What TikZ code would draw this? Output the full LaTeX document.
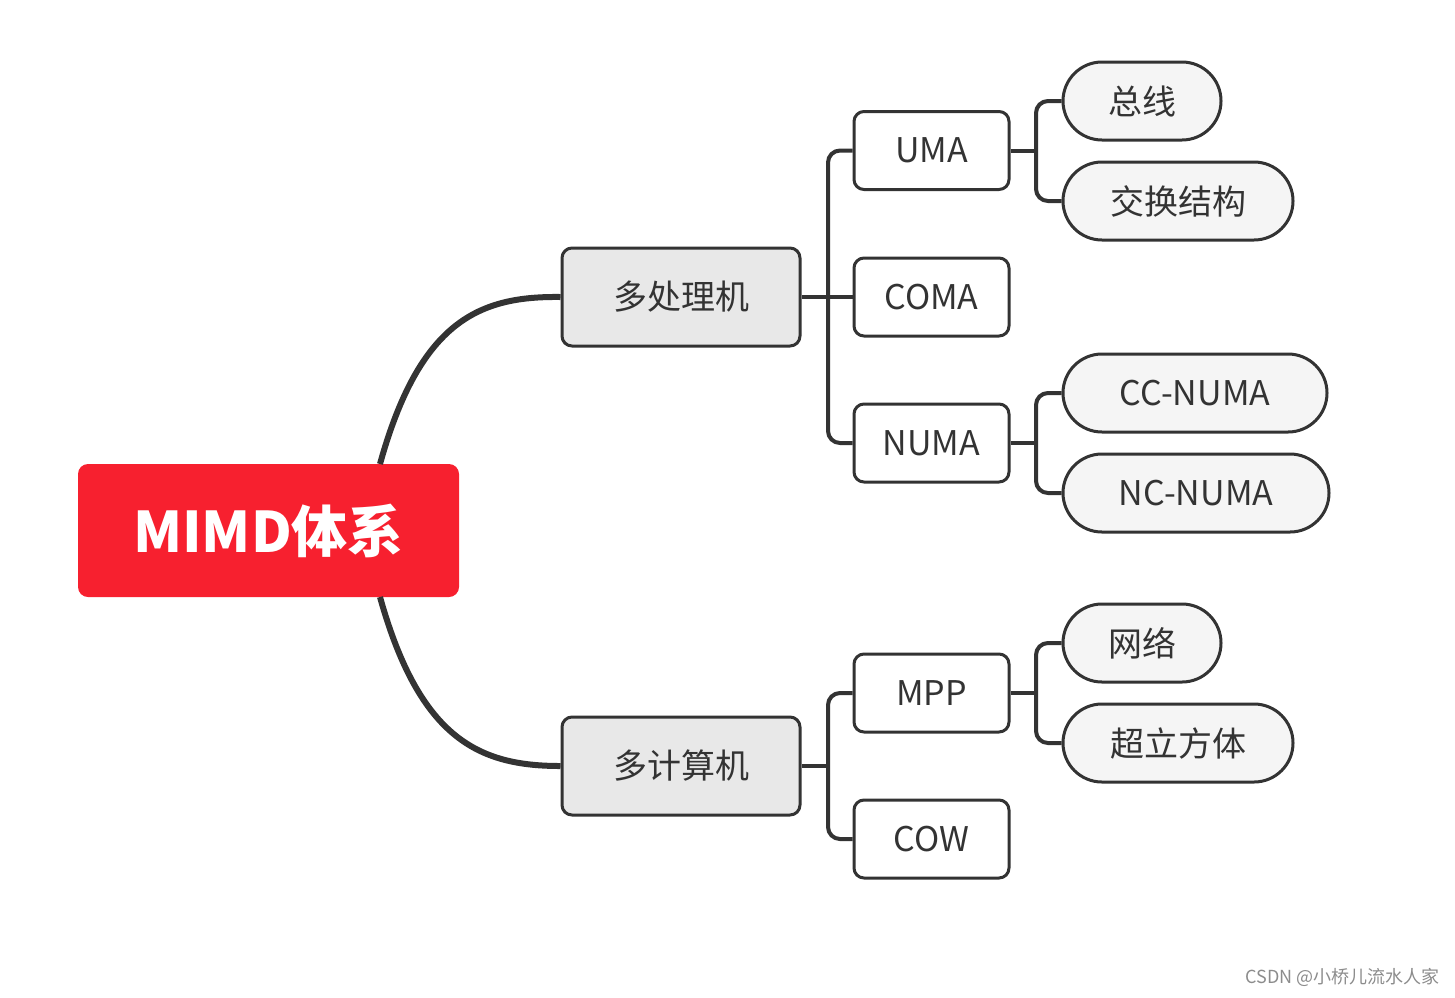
\documentclass[tikz,border=0pt]{standalone}
\usepackage{fontspec}
\setmainfont{Noto Sans CJK SC}
\definecolor{ln}{HTML}{333333}
\definecolor{rd}{HTML}{F7202F}
\begin{document}
\begin{tikzpicture}[x=0.5pt,y=-0.5pt,
 base/.style={draw=ln,line width=1.5pt,inner sep=0pt,text=ln,font=\fontsize{17}{20}\selectfont},
 l1/.style={base,fill=black!9,rounded corners=5pt,minimum width=119pt,minimum height=49pt},
 l2/.style={base,fill=white,rounded corners=5pt,minimum width=77.5pt,minimum height=39pt},
 l3/.style={base,fill=black!4,rounded corners=19.5pt,minimum height=39pt},
 con/.style={draw=ln,line width=2pt,rounded corners=6pt}]
\useasboundingbox (0,0) rectangle (1455,997);
\node[fill=rd,rounded corners=5pt,minimum width=190.5pt,minimum height=66.5pt,inner sep=0pt,text=white,font=\fontsize{28}{32}\selectfont\bfseries] (root) at (268.5,530.5) {MIMD体系};
\node[l1] (mp) at (681,297) {多处理机};
\node[l1] (mc) at (681,766) {多计算机};
\node[l2] (uma) at (931.5,150.5) {UMA};
\node[l2] (coma) at (931.5,297) {COMA};
\node[l2] (numa) at (931.5,443) {NUMA};
\node[l2] (mpp) at (931.5,693) {MPP};
\node[l2] (cow) at (931.5,839) {COW};
\node[l3,minimum width=79pt] (zx) at (1142,101) {总线};
\node[l3,minimum width=115pt] (jh) at (1178,201) {交换结构};
\node[l3,minimum width=132pt] (cc) at (1195,393) {CC-NUMA};
\node[l3,minimum width=133pt] (nc) at (1196,493) {NC-NUMA};
\node[l3,minimum width=79pt] (wl) at (1142,643) {网络};
\node[l3,minimum width=115pt] (cl) at (1178,743) {超立方体};
\draw[draw=ln,line width=3pt] (380,464) .. controls (420,320) and (480,296) .. (mp.west);
\draw[draw=ln,line width=3pt] (380,597) .. controls (420,740) and (480,766) .. (mc.west);
\draw[con] (mp.east) -- (coma.west);
\draw[con] (uma.west) -- (828,150.5) -- (828,443) -- (numa.west);
\draw[con] (mc.east) -- (828,766);
\draw[con] (mpp.west) -- (828,693) -- (828,839) -- (cow.west);
\draw[con] (uma.east) -- (1036,150.5);
\draw[con] (zx.west) -- (1036,101) -- (1036,201) -- (jh.west);
\draw[con] (numa.east) -- (1036,443);
\draw[con] (cc.west) -- (1036,393) -- (1036,493) -- (nc.west);
\draw[con] (mpp.east) -- (1036,693);
\draw[con] (wl.west) -- (1036,643) -- (1036,743) -- (cl.west);
\node[anchor=east,text=black!45,font=\fontsize{9}{10}\selectfont,inner sep=0pt] (wm) at (1440,977) {CSDN @小桥儿流水人家};
\end{tikzpicture}
\end{document}
